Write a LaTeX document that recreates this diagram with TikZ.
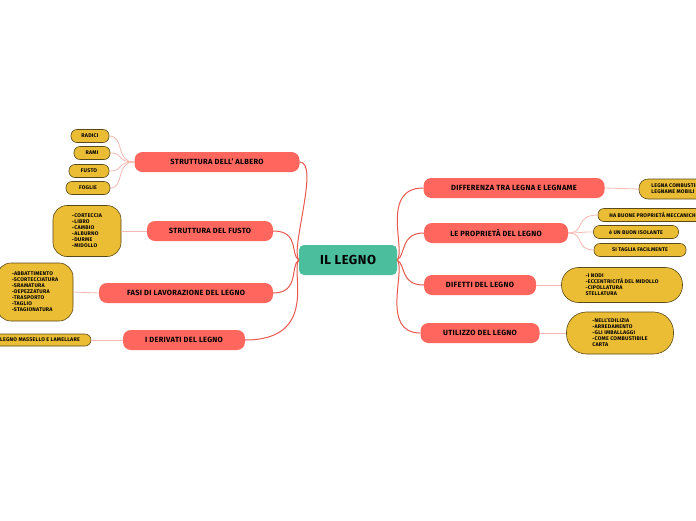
\documentclass[tikz,border=0pt]{standalone}
\usepackage{fontspec}
\setmainfont{Fira Sans}[LetterSpace=4]
\begin{document}
\begin{tikzpicture}[x=1pt,y=-1pt,
  main/.style={fill=mainc,rounded corners=8pt,minimum height=20pt,font=\bfseries\fontsize{7.5}{8}\selectfont,inner xsep=4pt},
  sub/.style={fill=subc,draw=subb,line width=0.6pt,rounded corners=6pt,minimum height=13pt,font=\bfseries\fontsize{5.3}{6}\selectfont,inner xsep=2pt,inner ysep=1pt},
  box/.style={fill=subc,draw=subb,line width=0.6pt,rounded corners=14pt,font=\bfseries\fontsize{5.3}{6}\selectfont,align=left,inner sep=4pt},
  mline/.style={draw=linec,line width=1pt},
  sline/.style={draw=slinec,line width=0.8pt}]
\definecolor{mainc}{HTML}{FF675E}
\definecolor{subc}{HTML}{EBBD35}
\definecolor{subb}{HTML}{5A4A1A}
\definecolor{centc}{HTML}{4BBE9E}
\definecolor{linec}{HTML}{E8584E}
\definecolor{slinec}{HTML}{F6B8B2}
\useasboundingbox (0,0) rectangle (696,520);
\clip (0,0) rectangle (696,520);
\node[fill=centc,rounded corners=5pt,minimum width=98pt,minimum height=30pt,font=\bfseries\fontsize{13}{14}\selectfont] (c) at (348,260) {IL LEGNO};
% left
\node[main,minimum width=165pt] (a1) at (217,162) {STRUTTURA DELL' ALBERO};
\node[main,minimum width=126pt] (a2) at (210,231) {STRUTTURA DEL FUSTO};
\node[main,minimum width=174pt] (a3) at (186,293) {FASI DI LAVORAZIONE DEL LEGNO};
\node[main,minimum width=122pt] (a4) at (184,340) {I DERIVATI DEL LEGNO};
\node[sub,minimum width=38pt] (r1) at (90,136) {RADICI};
\node[sub,minimum width=36pt] (r2) at (92,153) {RAMI};
\node[sub,minimum width=40pt] (r3) at (89,171) {FUSTO};
\node[sub,minimum width=44pt] (r4) at (88,188) {FOGLIE};
\node[box,minimum width=68pt,minimum height=51pt] (b2) at (87,231) {-CORTECCIA\\-LIBRO\\-CAMBIO\\-ALBURNO\\-DURME\\-MIDOLLO};
\node[box,minimum width=76pt,minimum height=58pt] (b3) at (35,292) {-ABBATTIMENTO\\-SCORTECCIATURA\\-SRAMATURA\\-DEPEZZATURA\\-TRASPORTO\\-TAGLIO\\-STAGIONATURA};
\node[sub,minimum width=102pt,minimum height=12pt] (b4) at (40,340) {LEGNO MASSELLO E LAMELLARE};
% right
\node[main,minimum width=181pt] (d1) at (514,188) {DIFFERENZA TRA LEGNA E LEGNAME};
\node[main,minimum width=144pt] (d2) at (496,233) {LE PROPRIETÀ DEL LEGNO};
\node[main,minimum width=112pt] (d3) at (480,285) {DIFETTI DEL LEGNO};
\node[main,minimum width=119pt] (d4) at (480,333) {UTILIZZO DEL LEGNO};
\node[box,rounded corners=9pt,minimum width=80pt,minimum height=20pt,inner sep=2pt] (e1) at (679,189) {LEGNA COMBUSTIBILE\\LEGNAME MOBILI};
\node[sub,minimum width=112pt] (p1) at (654,215) {HA BUONE PROPRIETÀ MECCANICHE};
\node[sub,minimum width=85pt] (p2) at (636,232) {è UN BUON ISOLANTE};
\node[sub,minimum width=92pt] (p3) at (640,250) {SI TAGLIA FACILMENTE};
\node[box,minimum width=121pt,minimum height=35pt,rounded corners=17pt] (e3) at (622,285) {-I NODI\\-ECCENTRICITÀ DEL MIDOLLO\\-CIPOLLATURA\\STELLATURA};
\node[box,minimum width=107pt,minimum height=42pt,rounded corners=20pt] (e4) at (620,333) {-NELL'EDILIZIA\\-ARREDAMENTO\\-GLI IMBALLAGGI\\-COME COMBUSTIBILE\\CARTA};
% main connectors
\draw[mline] (c.west) .. controls (290,250) and (320,162) .. (a1.east);
\draw[mline] (c.west) .. controls (290,255) and (300,231) .. (a2.east);
\draw[mline] (c.west) .. controls (290,265) and (300,293) .. (a3.east);
\draw[mline] (c.west) .. controls (290,270) and (320,340) .. (a4.east);
\draw[mline] (c.east) .. controls (406,250) and (380,188) .. (d1.west);
\draw[mline] (c.east) .. controls (406,255) and (400,233) .. (d2.west);
\draw[mline] (c.east) .. controls (406,265) and (400,285) .. (d3.west);
\draw[mline] (c.east) .. controls (406,270) and (380,333) .. (d4.west);
% sub connectors
\foreach \n in {r1,r2,r3,r4} \draw[sline] (a1.west) .. controls (115,162) and (125,0 |- \n) .. (\n.east);
\draw[sline] (a2.west) -- (b2.east);
\draw[sline] (a3.west) -- (b3.east);
\draw[sline] (a4.west) -- (b4.east);
\draw[sline] (d1.east) -- (e1.west);
\foreach \n in {p1,p2,p3} \draw[sline] (d2.east) .. controls (585,233) and (575,0 |- \n) .. (\n.west);
\draw[sline] (d3.east) -- (e3.west);
\draw[sline] (d4.east) -- (e4.west);
\end{tikzpicture}
\end{document}
